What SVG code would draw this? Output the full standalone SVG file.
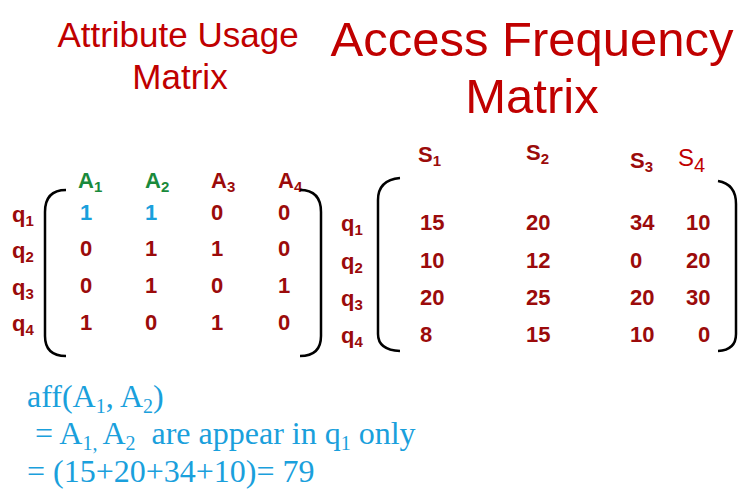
<svg xmlns="http://www.w3.org/2000/svg" width="738" height="499" viewBox="0 0 738 499">
<style>
.t{font-family:"Liberation Sans",Arial,sans-serif;fill:#c00000}
.m{font-family:"Liberation Sans",Arial,sans-serif;fill:#9b0b0b;font-size:22px;font-weight:bold}
.g{fill:#1a8a3c}
.b{fill:#1aa0dc}
.br{fill:none;stroke:#000;stroke-width:2.5}
.f{font-family:"Liberation Serif","Times New Roman",serif;fill:#1aa0dc;font-size:32px}
.s{font-size:15px}
</style>
<g id="title1"><text class="t" font-size="35" text-anchor="middle"><tspan x="178" y="47">Attribute Usage</tspan><tspan x="180" y="89">Matrix</tspan></text></g>
<g id="title2"><text class="t" font-size="49" text-anchor="middle"><tspan x="532" y="56">Access Frequency</tspan><tspan x="532" y="113">Matrix</tspan></text></g>
<g id="usage">
<text class="m g" x="78" y="188">A<tspan class="s" dy="4">1</tspan></text>
<text class="m g" x="145" y="188">A<tspan class="s" dy="4">2</tspan></text>
<text class="m" x="211" y="188">A<tspan class="s" dy="4">3</tspan></text>
<text class="m" x="278" y="188">A<tspan class="s" dy="4">4</tspan></text>
<text class="m" x="12" y="222">q<tspan class="s" dy="4">1</tspan></text>
<text class="m" x="12" y="258">q<tspan class="s" dy="4">2</tspan></text>
<text class="m" x="12" y="295">q<tspan class="s" dy="4">3</tspan></text>
<text class="m" x="12" y="331">q<tspan class="s" dy="4">4</tspan></text>
<text class="m b" x="80" y="220">1</text><text class="m b" x="145" y="220">1</text><text class="m" x="211" y="220">0</text><text class="m" x="278" y="220">0</text>
<text class="m" x="80" y="256">0</text><text class="m" x="145" y="256">1</text><text class="m" x="211" y="256">1</text><text class="m" x="278" y="256">0</text>
<text class="m" x="80" y="293">0</text><text class="m" x="145" y="293">1</text><text class="m" x="211" y="293">0</text><text class="m" x="278" y="293">1</text>
<text class="m" x="80" y="330">1</text><text class="m" x="145" y="330">0</text><text class="m" x="211" y="330">1</text><text class="m" x="278" y="330">0</text>
<path class="br" d="M66,190 Q45,190 45,212 L45,336 Q45,356 66,356"/>
<path class="br" d="M300,190 Q321,190 321,212 L321,336 Q321,356 300,356"/>
</g>
<g id="freq">
<text class="m" x="418" y="162">S<tspan class="s" dy="4">1</tspan></text>
<text class="m" x="526" y="160">S<tspan class="s" dy="4">2</tspan></text>
<text class="m" x="630" y="168">S<tspan class="s" dy="4">3</tspan></text>
<text class="t" font-size="24" x="678" y="166">S<tspan font-size="20" dy="6">4</tspan></text>
<text class="m" x="341" y="231">q<tspan class="s" dy="4">1</tspan></text>
<text class="m" x="341" y="269">q<tspan class="s" dy="4">2</tspan></text>
<text class="m" x="341" y="306">q<tspan class="s" dy="4">3</tspan></text>
<text class="m" x="341" y="343">q<tspan class="s" dy="4">4</tspan></text>
<text class="m" x="420" y="230">15</text><text class="m" x="526" y="230">20</text><text class="m" x="630" y="230">34</text><text class="m" x="686" y="230">10</text>
<text class="m" x="420" y="268">10</text><text class="m" x="526" y="268">12</text><text class="m" x="630" y="268">0</text><text class="m" x="686" y="268">20</text>
<text class="m" x="420" y="305">20</text><text class="m" x="526" y="305">25</text><text class="m" x="630" y="305">20</text><text class="m" x="686" y="305">30</text>
<text class="m" x="420" y="342">8</text><text class="m" x="526" y="342">15</text><text class="m" x="630" y="342">10</text><text class="m" x="698" y="342">0</text>
<path class="br" d="M400,178 Q378,180 378,200 L378,334 Q378,350 400,351"/>
<path class="br" d="M718,181 Q736,184 736,204 L736,334 Q736,350 718,351"/>
</g>
<g id="formula">
<text class="f" x="27" y="407">aff(A<tspan font-size="20" dy="6">1</tspan><tspan dy="-6">, A</tspan><tspan font-size="20" dy="6">2</tspan><tspan dy="-6">)</tspan></text>
<text class="f" x="27" y="444" xml:space="preserve"> = A<tspan font-size="20" dy="6">1, </tspan><tspan dy="-6">A</tspan><tspan font-size="20" dy="6">2</tspan><tspan dy="-6">  are appear in q</tspan><tspan font-size="20" dy="6">1</tspan><tspan dy="-6"> only</tspan></text>
<text class="f" x="27" y="482">= (15+20+34+10)= 79</text>
</g>
</svg>
